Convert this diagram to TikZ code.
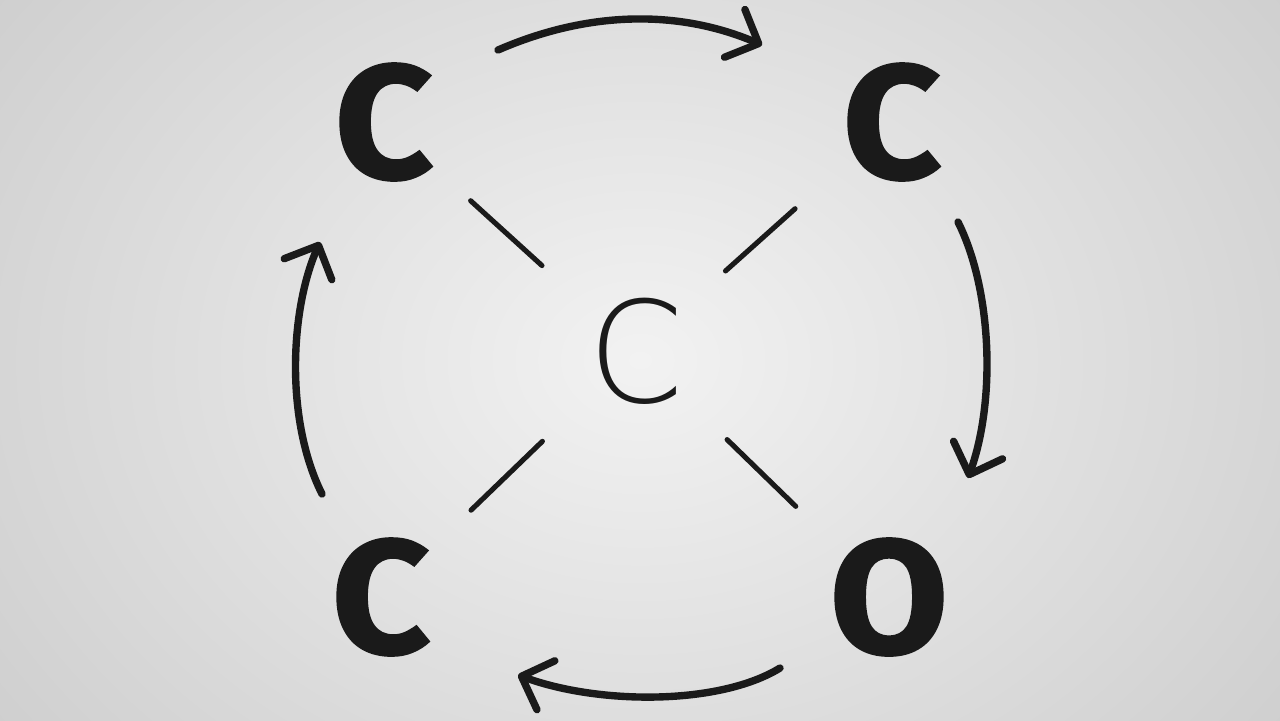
\documentclass[tikz,border=0pt]{standalone}
\usepackage{fontspec}
\usetikzlibrary{arrows.meta}
\newfontfamily\heavyfont[BoldFeatures={FakeBold=1.3, FakeStretch=1.06}]{Fira Sans}
\newfontfamily\lightfont{DejaVu Sans ExtraLight}
\definecolor{bgin}{HTML}{F2F2F2}
\definecolor{bgout}{HTML}{CDCDCD}
\definecolor{ink}{HTML}{1A1A1A}
\tikzset{
  atom/.style={inner sep=0pt, text=ink, font=\heavyfont\bfseries\fontsize{46}{46}\selectfont},
  core/.style={inner sep=0pt, text=ink, font=\lightfont\fontsize{40}{40}\selectfont},
  bond/.style={draw=ink, line width=1.45pt, line cap=round},
  cyc/.style={draw=ink, line width=2.1pt, line cap=round, -{Straight Barb[length=0.26cm, width=0.52cm, line width=2.1pt, round]}}
}
\begin{document}
\begin{tikzpicture}[x=0.01cm, y=-0.01cm]
\useasboundingbox (0,0) rectangle (1280,720);
\shade[inner color=bgin, outer color=bgout] (-200,-300) rectangle (1480,1020);
\node[atom] (c1) at (384,122) {C};
\node[atom] (c2) at (892,122) {C};
\node[atom] (c3) at (381,597) {C};
\node[atom] (o)  at (889,597) {O};
\node[core, xscale=0.97, transform shape] (ctr) at (636,351) {C};
\draw[bond, shorten <=1.27cm, shorten >=1.17cm] (ctr.center) -- (c1.center);
\draw[bond, shorten <=1.20cm, shorten >=1.30cm] (ctr.center) -- (c2.center);
\draw[bond, shorten <=1.30cm, shorten >=1.25cm] (ctr.center) -- (c3.center);
\draw[bond, shorten <=1.27cm, shorten >=1.30cm] (ctr.center) -- (o.center);
\coordinate (t1) at (498,50);  \coordinate (t2) at (762,45);
\coordinate (r1) at (958,222); \coordinate (r2) at (968,478);
\coordinate (b1) at (780,668); \coordinate (b2) at (518,675);
\coordinate (l1) at (322,494); \coordinate (l2) at (320,242);
\draw[cyc] (t1) .. controls (590,10) and (680,10) .. (t2);
\draw[cyc] (r1) .. controls (992,290) and (996,400) .. (r2);
\draw[cyc] (b1) .. controls (720,705) and (600,705) .. (b2);
\draw[cyc] (l1) .. controls (285,420) and (290,310) .. (l2);
\end{tikzpicture}
\end{document}
